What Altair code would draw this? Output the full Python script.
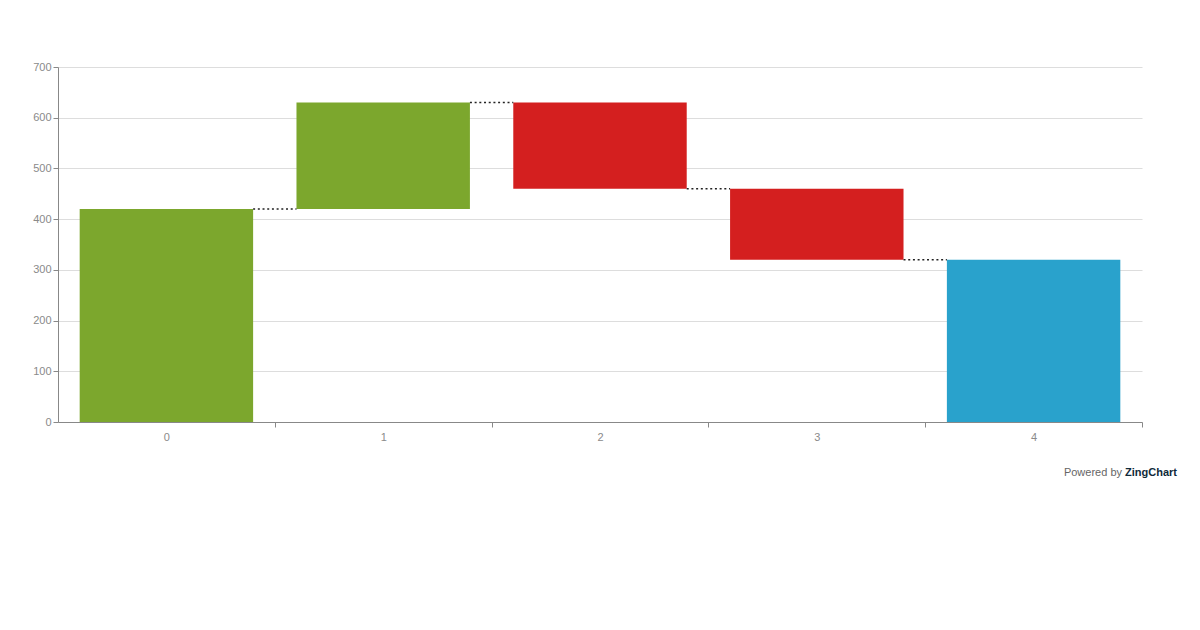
import altair as alt
import pandas as pd

categories = ["0", "1", "2", "3", "4"]
changes = [420, 210, -170, -140, 320]
kinds = ["increase", "increase", "decrease", "decrease", "total"]

kind_domain = ["increase", "decrease", "total"]
kind_colors = ["#7ca72d", "#d41f1f", "#29a2cc"]

# waterfall steps: start/end of each bar
rows = []
running = 0
for cat, delta, kind in zip(categories, changes, kinds):
    if kind == "total":
        start, end = 0, delta
        running = delta
    else:
        start, end = running, running + delta
        running = end
    rows.append({"cat": cat, "start": start, "end": end, "kind": kind})
bars_df = pd.DataFrame(rows)

# dotted connectors between consecutive bars at the running level
conn_df = pd.DataFrame({
    "cat": categories[:-1],
    "next_cat": categories[1:],
    "level": bars_df["end"].tolist()[:-1],
})

label_color = "#8a8a8a"
axis_color = "#888888"

W, H = 1084, 355
step = W / len(categories)

x_scale = alt.Scale(domain=categories, paddingInner=0.2, paddingOuter=0.1)
y_scale = alt.Scale(domain=[0, 700])

bars = alt.Chart(bars_df).mark_bar().encode(
    x=alt.X("cat:N", scale=x_scale, sort=categories,
            axis=alt.Axis(title=None, labelAngle=0,
                          tickOffset=step / 2, labelOffset=-step / 2,
                          domainColor=axis_color, tickColor=axis_color,
                          labelColor=label_color, labelFontSize=11,
                          labelFont="Liberation Sans", labelPadding=4,
                          tickSize=5, grid=False)),
    y=alt.Y("start:Q", scale=y_scale,
            axis=alt.Axis(title=None, values=list(range(0, 701, 100)),
                          domainColor=axis_color, tickColor=axis_color,
                          labelColor=label_color, labelFontSize=11,
                          labelFont="Liberation Sans", tickSize=5,
                          labelPadding=2, gridColor="#dddddd")),
    y2="end:Q",
    color=alt.Color("kind:N", scale=alt.Scale(domain=kind_domain, range=kind_colors),
                    legend=None),
)

connectors = alt.Chart(conn_df).mark_rule(
    color="#222222", strokeWidth=1.5, strokeDash=[2, 2.7]
).encode(
    x=alt.X("cat:N", scale=x_scale, sort=categories, bandPosition=1),
    x2=alt.X2("next_cat", bandPosition=0),
    y=alt.Y("level:Q", scale=y_scale),
)

credit = alt.Chart(pd.DataFrame({"t": ["Powered by "]})).mark_text(
    align="right", baseline="middle", font="Liberation Sans", fontSize=11,
    color="#666666", dx=-55,
).encode(x=alt.value(1119), y=alt.value(406), text="t:N")

credit_bold = alt.Chart(pd.DataFrame({"b": ["ZingChart"]})).mark_text(
    align="right", baseline="middle", font="Liberation Sans", fontSize=11,
    fontWeight="bold", color="#0f2a3a",
).encode(x=alt.value(1119), y=alt.value(406), text="b:N")

chart = (
    alt.layer(bars, connectors, credit, credit_bold)
    .properties(
        width=W, height=H,
        autosize=alt.AutoSizeParams(type="none"),
        padding={"left": 50, "top": 59, "right": 50, "bottom": 150},
    )
    .configure_view(stroke=None)
)

chart.save("out.html", embed_options={"renderer": "svg", "actions": False})
